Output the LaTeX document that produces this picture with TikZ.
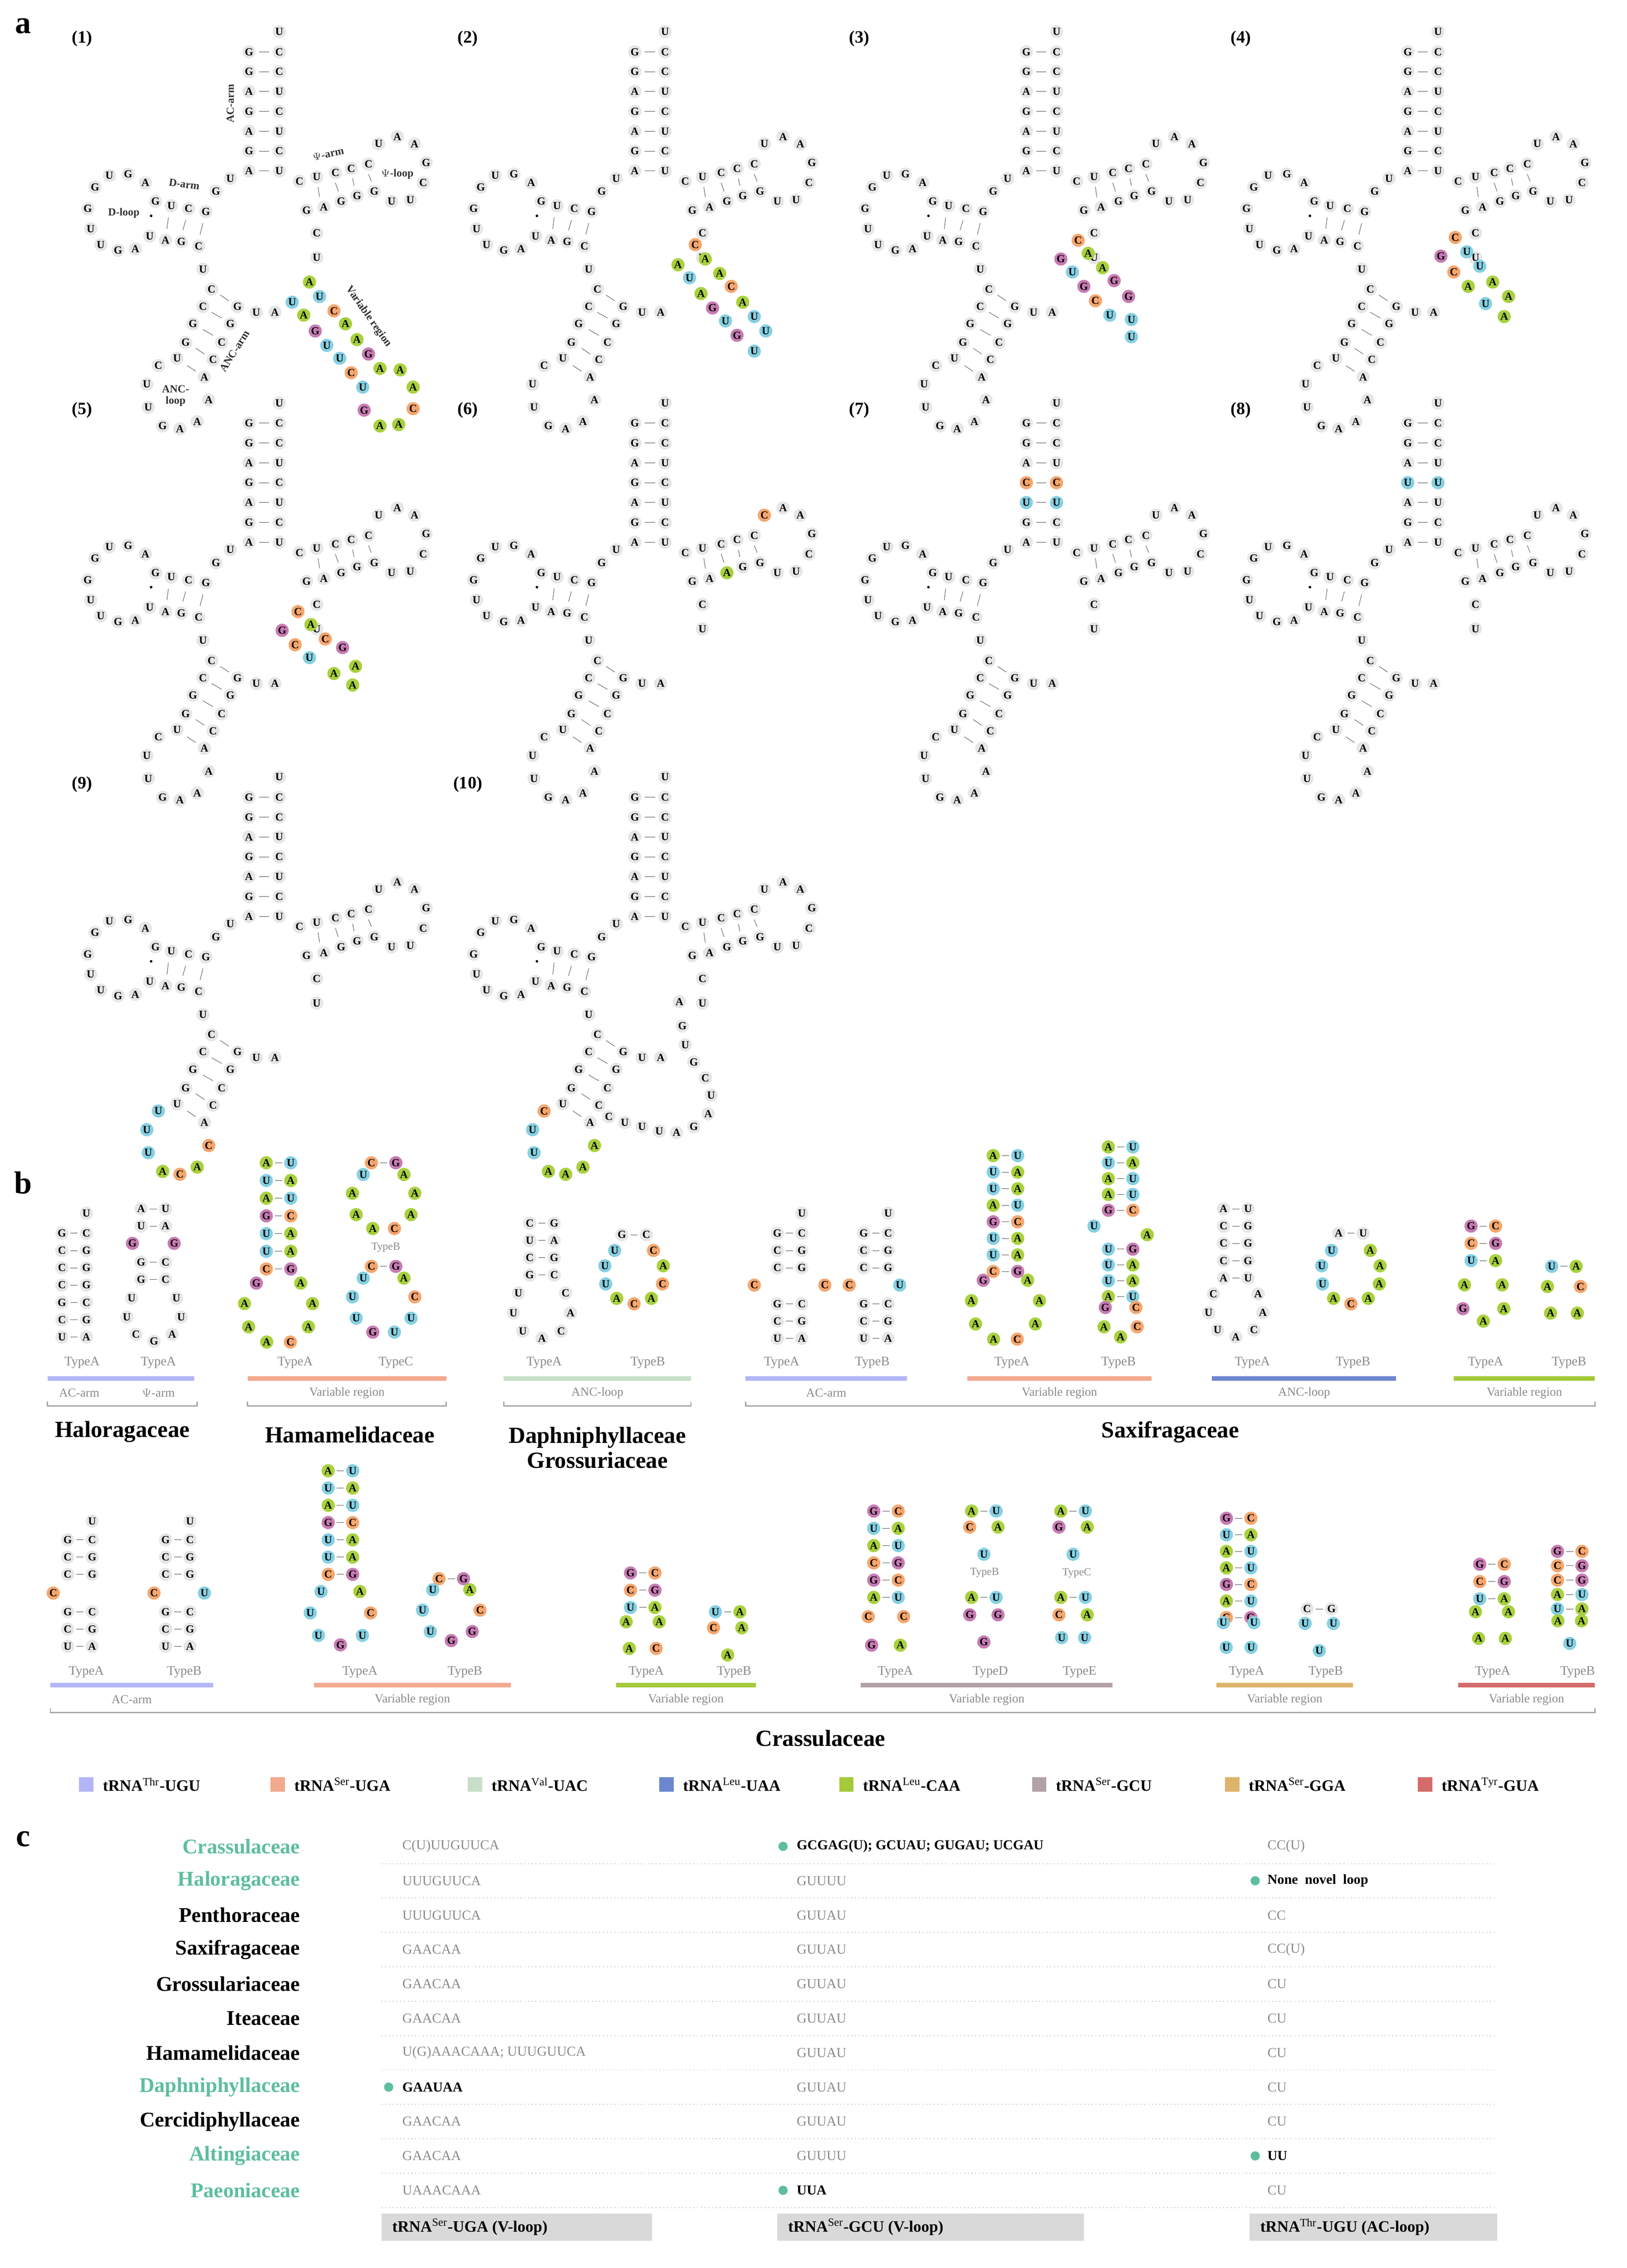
\documentclass[tikz,border=0pt]{standalone}
\usepackage{fontspec}
\setmainfont{Liberation Serif}
\usetikzlibrary{calc}
\definecolor{cg}{HTML}{A8D13E}\definecolor{cb}{HTML}{86D0E2}\definecolor{co}{HTML}{F5A66E}
\definecolor{cp}{HTML}{C77BB3}\definecolor{cn}{HTML}{E6E6E6}
\definecolor{cthr}{HTML}{B3B5F7}\definecolor{cser}{HTML}{F2A98E}\definecolor{cval}{HTML}{C8DEC8}
\definecolor{cleu}{HTML}{6D87CF}\definecolor{cleuc}{HTML}{A4C93A}\definecolor{csergcu}{HTML}{B3A1A8}
\definecolor{cserg}{HTML}{DDB46A}\definecolor{ctyr}{HTML}{D56B6B}\definecolor{teal}{HTML}{5DBE9C}
\definecolor{gtxt}{HTML}{8A8A8A}
\tikzset{nt/.style={circle,inner sep=0pt,minimum size=3.2mm,font=\fontsize{7.5}{7.5}\selectfont\bfseries},
 pairl/.style={draw=black!70,line width=0.3pt},
 plab/.style={font=\fontsize{12}{12}\selectfont\bfseries},
 big/.style={font=\fontsize{22}{22}\selectfont\bfseries},
 typel/.style={font=\fontsize{9}{9}\selectfont,text=gtxt},
 regl/.style={font=\fontsize{8.5}{9}\selectfont,text=gtxt},
 fam/.style={font=\fontsize{16}{17}\selectfont\bfseries},
 armlab/.style={font=\fontsize{7.5}{8}\selectfont\bfseries,text=black!80},
 brk/.style={draw=black!35,line width=0.8pt},
 ctx/.style={font=\fontsize{9.5}{9.5}\selectfont,text=gtxt,anchor=west},
 chi/.style={font=\fontsize{9.5}{9.5}\selectfont\bfseries,anchor=west},
 cname/.style={font=\fontsize{14.5}{15}\selectfont\bfseries,anchor=east}}
\newcommand\NT[4]{\node[nt,fill=#4] at (#1,#2) {#3};}
\newcommand\PR[6]{\draw[pairl] (#1+6,#2)--(#1+11,#2);\NT{#1}{#2}{#3}{#4}\NT{#1+17}{#2}{#5}{#6}}
\newcommand\LP[7]{\foreach \lt/\cc [count=\i] in {#7}{%
 \pgfmathsetmacro\ang{#4+(#5-#4)*(\i-1)/(#6-1)}%
 \node[nt,fill=\cc] at ({#1+#3*cos(\ang)},{#2+#3*sin(\ang)}) {\lt};}}
\newcommand\BAR[5]{\fill[#3] (#1,#4-1.6) rectangle (#2,#4+1.6);\node[regl] at ({(#1+#2)/2},#4+10) {#5};}
\newcommand\BRK[3]{\draw[brk] (#1,#3-3)--(#1,#3)--(#2,#3)--(#2,#3-3);}
\newcommand\skel{%
 \NT{194}{22}{U}{cn}
 \foreach \L/\R [count=\i from 0] in {G/C,G/C,A/U,G/C,A/U,G/C,A/U}{%
  \draw[pairl] (180,36+13.8*\i)--(187,36+13.8*\i);
  \NT{173}{36+13.8*\i}{\L}{cn}\NT{194}{36+13.8*\i}{\R}{cn}}
 \foreach \x/\y/\lt in {160/124/U,150/133/G,108/140/G,119/143/U,131/145/C,143/147/G,104/164/U,115/167/A,126/168/G,138/171/C,
  101/127/A,89/121/G,76/122/U,66/130/G,61/145/G,63/159/U,70/170/U,82/174/G,94/173/A,141/187/U,
  147/201/C,141/213/C,134/225/G,129/238/G,123/249/U,165/213/G,160/225/G,154/238/C,148/250/C,142/262/A,
  110/254/C,102/267/U,103/283/U,113/296/G,125/298/A,137/293/A,145/278/A,178/217/U,191/217/A,
  220/162/C,220/179/U,213/146/G,225/144/A,237/140/G,248/136/G,260/133/G,208/126/C,220/123/U,233/120/C,244/117/C,256/114/C,
  263/100/U,276/95/A,288/100/A,296/113/G,294/127/C,285/139/U,272/140/U}{\NT{\x}{\y}{\lt}{cn}}
 \foreach \a/\b/\c/\d in {117/151/116/159,129/153/127/160,141/155/139/163,153/205/159/209,147/217/154/221,141/229/148/233,136/242/142/246,130/254/136/258,
  221/130/222/137,233/127/235/133,245/124/246/129,256/121/258/126}{\draw[pairl] (\a,\b)--(\c,\d);}
 \fill (105,150) circle (0.9);}
\newcommand\VR[1]{\foreach \x/\y/\lt/\cc in {#1}{\NT{\x}{\y}{\lt}{\cc}}}
\begin{document}
\begin{tikzpicture}[x=0.35mm,y=-0.35mm]
\useasboundingbox (0,0) rectangle (1130,1576);
% ---------------- panel a
\node[big] at (16,18) {a};
\foreach \ox/\oy/\k in {0/0/1,268/0/2,540/0/3,805/0/4,0/258/5,268/258/6,540/258/7,805/258/8,0/518/9,268/518/10}{
 \node[plab] (pl\k) at (\ox+57,\oy+27) {(\k)};
 \begin{scope}[shift={(\ox,\oy)}]\skel\end{scope}}
\VR{215/196/A/cg,203/210/U/cb,222/206/U/cb,211/219/A/cg,232/216/C/co,219/230/G/cp,240/225/A/cg,227/240/U/cb,248/236/A/cg,236/249/U/cb,
 256/246/G/cp,244/259/C/co,264/256/A/cg,252/269/U/cb,278/257/A/cg,287/269/A/cg,287/284/C/co,277/295/A/cg,264/296/A/cg,253/285/G/cp}
\node[armlab,rotate=90] at (160,72) {AC-arm};
\node[armlab,rotate=-8] at (128,128) {D-arm};
\node[armlab] at (86,148) {D-loop};
\node[armlab,rotate=12] at (228,107) {$\Psi$-arm};
\node[armlab] at (276,121) {$\Psi$-loop};
\node[armlab,align=center] at (122,275) {ANC-\\loop};
\node[armlab,rotate=58] at (163,244) {ANC-arm};
\node[armlab,rotate=-55] at (256,220) {Variable region};
\begin{scope}[shift={(268,0)}]
\VR{215/170/C/co,203/184/A/cg,222/180/A/cg,211/193/U/cb,232/190/A/cg,219/204/A/cg,240/199/C/co,227/214/G/cp,248/210/A/cg,236/223/U/cb,256/220/U/cb,244/233/G/cp,264/230/U/cb,256/244/U/cb}
\end{scope}
\begin{scope}[shift={(540,0)}]
\VR{209/167/C/co,197/180/G/cp,216/176/A/cg,205/189/U/cb,226/186/A/cg,213/199/G/cp,234/195/G/cp,221/209/C/co,244/206/G/cp,231/219/U/cb,246/222/U/cb,246/234/U/cb}
\end{scope}
\begin{scope}[shift={(805,0)}]
\VR{206/165/C/co,196/178/G/cp,214/175/U/cb,205/189/C/co,223/185/U/cb,215/199/A/cg,232/196/A/cg,227/211/U/cb,243/206/A/cg,240/220/A/cg}
\end{scope}
\begin{scope}[shift={(0,258)}]
\VR{207/167/C/co,196/180/G/cp,216/176/A/cg,205/190/C/co,226/186/C/co,215/199/U/cb,238/192/G/cp,232/210/A/cg,247/205/A/cg,245/218/A/cg}
\end{scope}
\begin{scope}[shift={(268,258)}]\VR{263/100/C/co,237/140/A/cg}\end{scope}
\begin{scope}[shift={(540,258)}]\VR{173/77.4/C/co,194/77.4/C/co,173/91.2/U/cb,194/91.2/U/cb}\end{scope}
\begin{scope}[shift={(805,258)}]\VR{173/77.4/U/cb,194/77.4/U/cb}\end{scope}
\begin{scope}[shift={(0,518)}]\VR{110/254/U/cb,102/267/U/cb,103/283/U/cb,113/296/A/cg,125/298/C/co,137/293/A/cg,145/278/C/co}\end{scope}
\begin{scope}[shift={(268,518)}]
\VR{110/254/C/co,102/267/U/cb,103/283/U/cb,113/296/A/cg,125/298/A/cg,137/293/A/cg,145/278/A/cg}
\VR{206/195/G/cn,208/208/U/cn,214/220/G/cn,222/231/C/cn,226/243/U/cn,224/256/A/cn,214/265/G/cn,202/269/A/cn,
 190/268/U/cn,178/265/U/cn,166/262/U/cn,155/258/C/cn,204/178/A/cn}
\end{scope}
% ---------------- panel b
\node[big] at (16,822) {b};
\NT{60}{843}{U}{cn}
\foreach \L/\R [count=\i from 0] in {G/C,C/G,C/G,C/G,G/C,C/G,U/A}{\PR{43}{857+12*\i}{\L}{cn}{\R}{cn}}
\PR{98}{840}{A}{cn}{U}{cn}\PR{98}{852}{U}{cn}{A}{cn}\NT{92}{864}{G}{cp}\NT{121}{864}{G}{cp}
\PR{98}{877}{G}{cn}{C}{cn}\PR{98}{889}{G}{cn}{C}{cn}
\LP{107}{913}{19}{215}{-35}{7}{U/cn,U/cn,C/cn,G/cn,A/cn,U/cn,U/cn}
\node[typel] at (57,947) {TypeA};\node[typel] at (110,947) {TypeA};
\fill[cthr] (33,956.4) rectangle (135,959.6);
\node[regl] at (55,968) {AC-arm};\node[regl] at (110,968) {$\Psi$-arm};
\BRK{33}{137}{977}\node[fam] (f1) at (85,995) {Haloragaceae};
\foreach \L/\a/\R/\b [count=\i from 0] in {A/cg/U/cb,U/cb/A/cg,A/cg/U/cb,G/cp/C/co,U/cb/A/cg,U/cb/A/cg,C/co/G/cp}{\PR{185}{808+12.3*\i}{\L}{\a}{\R}{\b}}
\LP{193.5}{910}{24}{230}{-50}{8}{G/cp,A/cg,A/cg,A/cg,C/co,A/cg,A/cg,A/cg}
\PR{258}{808}{C}{co}{G}{cp}\LP{266.5}{833}{22}{230}{-50}{8}{U/cb,A/cg,A/cg,A/cg,C/co,A/cg,A/cg,A/cg}
\node[typel,font=\fontsize{7.5}{7.5}\selectfont] at (268,867) {TypeB};
\PR{258}{880}{C}{co}{G}{cp}\LP{266.5}{905}{22}{230}{-50}{8}{U/cb,U/cb,U/cb,G/cp,U/cb,U/cb,C/co,A/cg}
\node[typel] at (205,947) {TypeA};\node[typel] at (275,947) {TypeC};
\BAR{172}{310}{cser}{958}{Variable region}\BRK{172}{310}{977}
\node[fam] (f2) at (243,997) {Hamamelidaceae};
\foreach \L/\R [count=\i from 0] in {C/G,U/A,C/G,G/C}{\PR{368}{850+12*\i}{\L}{cn}{\R}{cn}}
\LP{376.5}{910}{20}{215}{-35}{7}{U/cn,U/cn,U/cn,A/cn,C/cn,A/cn,C/cn}
\PR{432}{858}{G}{cn}{C}{cn}\LP{440.5}{885}{21}{230}{-50}{9}{U/cb,U/cb,U/cb,A/cg,C/co,A/cg,C/co,A/cg,C/co}
\node[typel] at (378,947) {TypeA};\node[typel] at (450,947) {TypeB};
\BAR{350}{480}{cval}{958}{ANC-loop}\BRK{350}{480}{977}
\node[fam,align=center] (f3) at (415,1006) {Daphniphyllaceae\\Grossuriaceae};
\NT{557}{843}{U}{cn}
\foreach \L/\R [count=\i from 0] in {G/C,C/G,C/G}{\PR{540}{857+12*\i}{\L}{cn}{\R}{cn}}
\NT{524}{893}{C}{co}\NT{573}{893}{C}{co}
\foreach \L/\R [count=\i from 0] in {G/C,C/G,U/A}{\PR{540}{906+12*\i}{\L}{cn}{\R}{cn}}
\NT{617}{843}{U}{cn}
\foreach \L/\R [count=\i from 0] in {G/C,C/G,C/G}{\PR{600}{857+12*\i}{\L}{cn}{\R}{cn}}
\NT{590}{893}{C}{co}\NT{625}{893}{U}{cb}
\foreach \L/\R [count=\i from 0] in {G/C,C/G,U/A}{\PR{600}{906+12*\i}{\L}{cn}{\R}{cn}}
\node[typel] at (543,947) {TypeA};\node[typel] at (606,947) {TypeB};
\BAR{518}{630}{cthr}{958}{AC-arm}
\foreach \L/\a/\R/\b [count=\i from 0] in {A/cg/U/cb,U/cb/A/cg,U/cb/A/cg,A/cg/U/cb,G/cp/C/co,U/cb/A/cg,U/cb/A/cg,C/co/G/cp}{\PR{690}{803+11.5*\i}{\L}{\a}{\R}{\b}}
\LP{698.5}{908}{24}{230}{-50}{8}{G/cp,A/cg,A/cg,A/cg,C/co,A/cg,A/cg,A/cg}
\foreach \L/\a/\R/\b [count=\i from 0] in {A/cg/U/cb,U/cb/A/cg,A/cg/U/cb,A/cg/U/cb,G/cp/C/co}{\PR{770}{797+11*\i}{\L}{\a}{\R}{\b}}
\NT{760}{852}{U}{cb}\NT{797}{858}{A}{cg}
\foreach \L/\a/\R/\b [count=\i from 0] in {U/cb/G/cp,U/cb/A/cg,U/cb/A/cg,A/cg/U/cb}{\PR{770}{868+11*\i}{\L}{\a}{\R}{\b}}
\LP{778.5}{916}{13}{215}{-35}{5}{G/cp,A/cg,A/cg,C/co,C/co}
\node[typel] at (703,947) {TypeA};\node[typel] at (777,947) {TypeB};
\BAR{672}{800}{cser}{958}{Variable region}
\foreach \L/\R [count=\i from 0] in {A/U,C/G,C/G,C/G,A/U}{\PR{850}{840+12*\i}{\L}{cn}{\R}{cn}}
\LP{858.5}{910}{19}{215}{-35}{7}{C/cn,U/cn,U/cn,A/cn,C/cn,A/cn,A/cn}
\PR{930}{857}{A}{cn}{U}{cn}\LP{938.5}{885}{21}{230}{-50}{9}{U/cb,U/cb,U/cb,A/cg,C/co,A/cg,A/cg,A/cg,A/cg}
\node[typel] at (870,947) {TypeA};\node[typel] at (940,947) {TypeB};
\BAR{842}{970}{cleu}{958}{ANC-loop}
\foreach \L/\a/\R/\b [count=\i from 0] in {G/cp/C/co,C/co/G/cp,U/cb/A/cg}{\PR{1022}{852+12*\i}{\L}{\a}{\R}{\b}}
\LP{1030.5}{902}{16}{215}{-35}{5}{A/cg,G/cp,A/cg,A/cg,A/cg}
\PR{1078}{880}{U}{cb}{A}{cg}\LP{1086.5}{902}{14}{215}{-35}{4}{A/cg,A/cg,A/cg,C/co}
\node[typel] at (1032,947) {TypeA};\node[typel] at (1090,947) {TypeB};
\BAR{1010}{1108}{cleuc}{958}{Variable region}
\BRK{518}{1108}{977}\node[fam] (f4) at (813,995) {Saxifragaceae};
\NT{64}{1057}{U}{cn}
\foreach \L/\R [count=\i from 0] in {G/C,C/G,C/G}{\PR{47}{1070+12*\i}{\L}{cn}{\R}{cn}}
\NT{37}{1107}{C}{co}
\foreach \L/\R [count=\i from 0] in {G/C,C/G,U/A}{\PR{47}{1120+12*\i}{\L}{cn}{\R}{cn}}
\NT{132}{1057}{U}{cn}
\foreach \L/\R [count=\i from 0] in {G/C,C/G,C/G}{\PR{115}{1070+12*\i}{\L}{cn}{\R}{cn}}
\NT{107}{1107}{C}{co}\NT{142}{1107}{U}{cb}
\foreach \L/\R [count=\i from 0] in {G/C,C/G,U/A}{\PR{115}{1120+12*\i}{\L}{cn}{\R}{cn}}
\node[typel] at (60,1162) {TypeA};\node[typel] at (128,1162) {TypeB};
\BAR{35}{148}{cthr}{1171}{AC-arm}
\foreach \L/\a/\R/\b [count=\i from 0] in {A/cg/U/cb,U/cb/A/cg,A/cg/U/cb,G/cp/C/co,U/cb/A/cg,U/cb/A/cg,C/co/G/cp}{\PR{228}{1022+12*\i}{\L}{\a}{\R}{\b}}
\LP{236.5}{1122}{21}{230}{-50}{7}{U/cb,U/cb,U/cb,G/cp,U/cb,C/co,A/cg}
\PR{305}{1097}{C}{co}{G}{cp}\LP{313.5}{1120}{20}{230}{-50}{7}{U/cb,U/cb,U/cb,G/cp,G/cp,C/co,A/cg}
\node[typel] at (250,1162) {TypeA};\node[typel] at (323,1162) {TypeB};
\BAR{218}{355}{cser}{1171}{Variable region}
\foreach \L/\a/\R/\b [count=\i from 0] in {G/cp/C/co,C/co/G/cp,U/cb/A/cg}{\PR{438}{1093+12*\i}{\L}{\a}{\R}{\b}}
\LP{446.5}{1135}{14}{215}{-35}{4}{A/cg,A/cg,C/co,A/cg}
\PR{497}{1120}{U}{cb}{A}{cg}\LP{505.5}{1138}{12}{215}{-35}{3}{C/co,A/cg,A/cg}
\node[typel] at (449,1162) {TypeA};\node[typel] at (510,1162) {TypeB};
\BAR{428}{525}{cleuc}{1171}{Variable region}
\foreach \L/\a/\R/\b [count=\i from 0] in {G/cp/C/co,U/cb/A/cg,A/cg/U/cb,C/co/G/cp,G/cp/C/co,A/cg/U/cb}{\PR{607}{1050+12*\i}{\L}{\a}{\R}{\b}}
\LP{615.5}{1132}{15}{215}{-35}{4}{C/co,G/cp,A/cg,C/co}
\PR{675}{1050}{A}{cg}{U}{cb}\LP{683.5}{1068}{12}{215}{-35}{3}{C/co,U/cb,A/cg}
\node[typel,font=\fontsize{7.5}{7.5}\selectfont] at (684,1093) {TypeB};
\PR{737}{1050}{A}{cg}{U}{cb}\LP{745.5}{1068}{12}{215}{-35}{3}{G/cp,U/cb,A/cg}
\node[typel,font=\fontsize{7.5}{7.5}\selectfont] at (748,1093) {TypeC};
\PR{675}{1110}{A}{cg}{U}{cb}\LP{683.5}{1129}{12}{215}{-35}{3}{G/cp,G/cp,G/cp}
\PR{737}{1110}{A}{cg}{U}{cb}\LP{745.5}{1129}{12}{215}{-35}{4}{C/co,U/cb,U/cb,A/cg}
\node[typel] at (622,1162) {TypeA};\node[typel] at (688,1162) {TypeD};\node[typel] at (750,1162) {TypeE};
\BAR{598}{773}{csergcu}{1171}{Variable region}
\foreach \L/\a/\R/\b [count=\i from 0] in {G/cp/C/co,U/cb/A/cg,A/cg/U/cb,A/cg/U/cb,G/cp/C/co,A/cg/U/cb,C/co/G/cp}{\PR{852}{1055+11.5*\i}{\L}{\a}{\R}{\b}}
\LP{860.5}{1135}{13}{215}{-35}{4}{U/cb,U/cb,U/cb,U/cb}
\PR{908}{1118}{C}{cn}{G}{cn}\LP{916.5}{1135}{12}{215}{-35}{3}{U/cb,U/cb,U/cb}
\node[typel] at (866,1162) {TypeA};\node[typel] at (921,1162) {TypeB};
\BAR{845}{940}{cserg}{1171}{Variable region}
\foreach \L/\a/\R/\b [count=\i from 0] in {G/cp/C/co,C/co/G/cp,U/cb/A/cg}{\PR{1028}{1087+12*\i}{\L}{\a}{\R}{\b}}
\LP{1036.5}{1128}{14}{215}{-35}{4}{A/cg,A/cg,A/cg,A/cg}
\foreach \L/\a/\R/\b [count=\i from 0] in {G/cp/C/co,C/co/G/cp,C/co/G/cp,A/cg/U/cb,U/cb/A/cg}{\PR{1082}{1078+10*\i}{\L}{\a}{\R}{\b}}
\LP{1090.5}{1132}{10}{215}{-35}{3}{A/cg,U/cb,A/cg}
\node[typel] at (1037,1162) {TypeA};\node[typel] at (1096,1162) {TypeB};
\BAR{1013}{1108}{ctyr}{1171}{Variable region}
\BRK{35}{1108}{1190}\node[fam] (f5) at (570,1208) {Crassulaceae};
\foreach \x/\c/\t in {60/cthr/{tRNA$^{\mathrm{Thr}}$-UGU},193/cser/{tRNA$^{\mathrm{Ser}}$-UGA},330/cval/{tRNA$^{\mathrm{Val}}$-UAC},463/cleu/{tRNA$^{\mathrm{Leu}}$-UAA},
 588/cleuc/{tRNA$^{\mathrm{Leu}}$-CAA},722/csergcu/{tRNA$^{\mathrm{Ser}}$-GCU},856/cserg/{tRNA$^{\mathrm{Ser}}$-GGA},990/ctyr/{tRNA$^{\mathrm{Tyr}}$-GUA}}{
 \fill[\c] (\x-5,1235) rectangle (\x+5,1245);
 \node[anchor=west,font=\fontsize{11}{11}\selectfont\bfseries] at (\x+8,1240) {\t};}
% ---------------- panel c
\node[big] at (16,1278) {c};
\foreach \n/\c [count=\i from 0] in {Crassulaceae/teal,Haloragaceae/teal,Penthoraceae/black,Saxifragaceae/black,Grossulariaceae/black,Iteaceae/black,
 Hamamelidaceae/black,Daphniphyllaceae/teal,Cercidiphyllaceae/black,Altingiaceae/teal,Paeoniaceae/teal}{
 \node[cname,text=\c] (r\i) at (212,1283+23.9*\i) {\n};
 \draw[black!25,dotted,line width=0.6pt] (265,1295+23.9*\i)--(1040,1295+23.9*\i);}
\foreach \a/\b/\c [count=\i from 0] in {{C(U)UUGUUCA}/{}/{CC(U)},UUUGUUCA/GUUUU/{},UUUGUUCA/GUUAU/CC,GAACAA/GUUAU/{CC(U)},GAACAA/GUUAU/CU,GAACAA/GUUAU/CU,
 {U(G)AAACAAA; UUUGUUCA}/GUUAU/CU,{}/GUUAU/CU,GAACAA/GUUAU/CU,GAACAA/GUUUU/{},UAAACAAA/{}/CU}{
 \node[ctx] at (276,1283+23.9*\i) {\a};\node[ctx] at (550,1283+23.9*\i) {\b};\node[ctx] at (877,1283+23.9*\i) {\c};}
\fill[teal] (544,1283) circle (3.2);\node[chi] at (550,1283) {GCGAG(U); GCUAU; GUGAU; UCGAU};
\fill[teal] (872,1306.9) circle (3.2);\node[chi] at (877,1306.9) {None\ \ novel\ \ loop};
\fill[teal] (270,1450.3) circle (3.2);\node[chi] at (276,1450.3) {GAAUAA};
\fill[teal] (872,1498.1) circle (3.2);\node[chi] at (877,1498.1) {UU};
\fill[teal] (544,1522) circle (3.2);\node[chi] at (550,1522) {UUA};
\foreach \a/\b/\t in {265/453/{tRNA$^{\mathrm{Ser}}$-UGA (V-loop)},540/753/{tRNA$^{\mathrm{Ser}}$-GCU (V-loop)},868/1040/{tRNA$^{\mathrm{Thr}}$-UGU (AC-loop)}}{
 \fill[black!15] (\a,1538) rectangle (\b,1557);
 \node[anchor=west,font=\fontsize{11}{11}\selectfont\bfseries] at (\a+4,1547.5) {\t};}
\end{tikzpicture}
\end{document}
